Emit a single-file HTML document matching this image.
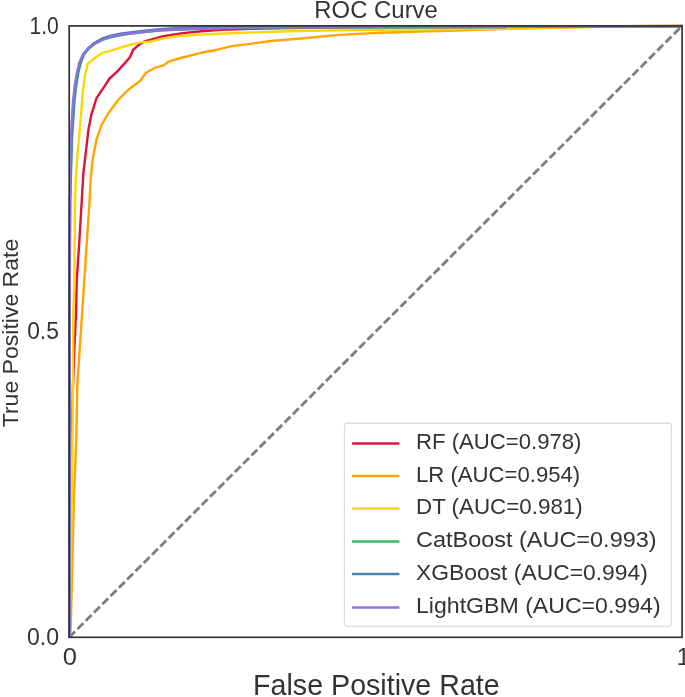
<!DOCTYPE html>
<html lang="en">
<head>
<meta charset="utf-8">
<title>ROC Curve</title>
<style>
html,body{margin:0;padding:0;background:#fff;}
body{width:685px;height:697px;overflow:hidden;}
svg{display:block;}
text{font-family:"Liberation Sans","DejaVu Sans",sans-serif;fill:#333333;}
.curve{fill:none;stroke-width:2.4;stroke-linejoin:round;stroke-linecap:butt;}
</style>
</head>
<body>
<svg width="685" height="697" viewBox="0 0 685 697">
<rect x="0" y="0" width="685" height="697" fill="#ffffff"/>

<!-- diagonal reference -->
<line x1="69.2" y1="637.3" x2="682.1" y2="25.9" stroke="#808080" stroke-width="2.9" stroke-dasharray="8.3 3.4"/>

<!-- curves -->
<g id="curves">
<polyline class="curve" stroke="#DC143C" points="69.3,637.3 71.5,450 73,385 74.5,345 76,315 76.8,280 79.4,240 81.8,200 83.4,173 86.3,148 88.5,129.2 91.4,114.6 96.5,98.2 103.8,87.3 109.6,78.5 116.9,71.9 124.2,63.9 130,57.3 133,50 138.8,44.9 144.7,41.3 150,40 162.3,36.5 180.7,33.4 201,31.3 221.5,29.7 252,28.9 290,28 360,27.4 400,27.1 505,26.6 682.1,25.9"/>
<polyline class="curve" stroke="#FFA500" points="69.3,637.3 70.7,629 72.4,560 73.9,500 76.4,435 77.3,385 82,315 84.3,280 89.6,200 90.7,178.8 92.8,158.4 96.5,139.4 101.6,124.8 108.2,113.5 118.4,99.7 128.6,89.5 140.3,80.7 146.1,72.7 155.1,67.7 163.8,65.4 168.4,61.6 182.7,57.5 201,52.8 217.4,49.7 231.7,46.1 252.2,43.6 272.6,40.8 280,40.2 309,37.8 338.4,34.9 367.6,33.4 380,32.8 396.8,32.3 426,31.4 440,31 455,30.6 492,29.4 540,28 620,26.4 682.1,25.9"/>
<polyline class="curve" stroke="#FFD700" points="69.3,637.3 71.8,500 72.7,410 73.25,315 74.3,280 75.1,200 76,173 78.2,146.7 80.4,122 82.2,100 82.6,93.8 84.8,76.3 87.7,63.9 95,58 101.6,53.2 109.6,51.2 124.2,46.4 140.3,42.4 150,41.6 160,39.1 170.4,37.1 190.9,35 221.5,33.8 252.2,32.4 280,31.5 309,30.8 353,30.1 400,29.6 440,29.4 505,28.6 560,27.3 638,26 682.1,25.9"/>
<polyline class="curve" stroke="#3CB371" points="69.3,637.3 69.6,315 70.19,200 71.97,141 73.17,122 74.6,100 76.5,84 78.3,73 80.9,62.5 84,54.69 88.74,48.7 94.58,43.99 103,39.65 111.8,37.05 120.5,35.25 128,34.15 144.7,32.15 160,30.65 170.4,30.05 201,28.85 231.7,28.15 290,27.65 400,27.45 505,27.35 507.5,26.65 680,26.65 682.1,25.9"/>
<polyline class="curve" stroke="#4682B4" points="69.3,637.3 69.6,315 70.09,200 71.5,141 72.58,122 74,100 75.9,84 77.7,73 80.3,62.5 83.56,54.28 88.48,47.81 94.47,42.72 103,38.1 111.8,35.5 120.5,33.7 128,32.6 144.7,30.6 160,29.1 170.4,28.5 201,27.3 231.7,26.6 290,26.3 400,26.3 505,26.3 507.5,26.3 680,26.3 682.1,25.9"/>
<polyline class="curve" stroke="#9370DB" points="69.3,637.3 69.6,315 69.95,200 70.8,141 71.7,122 73.1,100 75,84 76.8,73 79.4,62.5 82.9,54.6 88.1,48.5 94.3,43.7 103,39.3 111.8,36.7 120.5,34.9 128,33.8 144.7,31.8 160,30.3 170.4,29.7 201,28.5 231.7,27.8 290,27.3 400,27.1 505,27 507.5,26.3 680,26.3 682.1,25.9"/>
</g>

<!-- axes frame -->
<rect x="69.2" y="25.9" width="612.9" height="611.4" fill="none" stroke="#333333" stroke-width="1.7"/>

<!-- title -->
<text x="376.1" y="18.3" font-size="23.6" text-anchor="middle" textLength="123.5" lengthAdjust="spacingAndGlyphs">ROC Curve</text>

<!-- y tick labels -->
<text x="58.8" y="33.5" font-size="24.8" text-anchor="end" textLength="29.3" lengthAdjust="spacingAndGlyphs">1.0</text>
<text x="58.8" y="338.8" font-size="24.2" text-anchor="end" textLength="31.6" lengthAdjust="spacingAndGlyphs">0.5</text>
<text x="59.1" y="645.4" font-size="24.1" text-anchor="end" textLength="32.1" lengthAdjust="spacingAndGlyphs">0.0</text>

<!-- x tick labels -->
<text x="69.8" y="664.8" font-size="24.3" text-anchor="middle" textLength="14.2" lengthAdjust="spacingAndGlyphs">0</text>
<text x="683.4" y="664.9" font-size="23.6" text-anchor="middle">1</text>

<!-- axis labels -->
<text x="376.4" y="694.8" font-size="29.1" text-anchor="middle" textLength="246.6" lengthAdjust="spacingAndGlyphs">False Positive Rate</text>
<text transform="translate(18,333) rotate(-90)" font-size="22.8" text-anchor="middle" textLength="188.5" lengthAdjust="spacingAndGlyphs">True Positive Rate</text>

<!-- legend -->
<g id="legend">
<rect x="344.4" y="423.1" width="326.9" height="203.2" rx="3.4" ry="3.4" fill="#ffffff" fill-opacity="0.8" stroke="#d4d4d4" stroke-opacity="0.9" stroke-width="1.1"/>
<g stroke-width="2.5" fill="none">
<line x1="352.1" y1="443.5" x2="399.4" y2="443.5" stroke="#DC143C"/>
<line x1="352.1" y1="476.1" x2="399.4" y2="476.1" stroke="#FFA500"/>
<line x1="352.1" y1="508.5" x2="399.4" y2="508.5" stroke="#FFD700"/>
<line x1="352.1" y1="541.6" x2="399.4" y2="541.6" stroke="#3CB371"/>
<line x1="352.1" y1="574.05" x2="399.4" y2="574.05" stroke="#4682B4"/>
<line x1="352.1" y1="607.6" x2="399.4" y2="607.6" stroke="#9370DB"/>
</g>
<g font-size="22.8">
<text x="416" y="448.5" textLength="165.5" lengthAdjust="spacingAndGlyphs">RF (AUC=0.978)</text>
<text x="416" y="481.7" textLength="164.2" lengthAdjust="spacingAndGlyphs">LR (AUC=0.954)</text>
<text x="416" y="514.4" textLength="166.7" lengthAdjust="spacingAndGlyphs">DT (AUC=0.981)</text>
<text x="416" y="547.3" textLength="240.6" lengthAdjust="spacingAndGlyphs">CatBoost (AUC=0.993)</text>
<text x="416" y="580.1" textLength="231.8" lengthAdjust="spacingAndGlyphs">XGBoost (AUC=0.994)</text>
<text x="416" y="613.1" textLength="244.6" lengthAdjust="spacingAndGlyphs">LightGBM (AUC=0.994)</text>
</g>
</g>
</svg>
</body>
</html>
